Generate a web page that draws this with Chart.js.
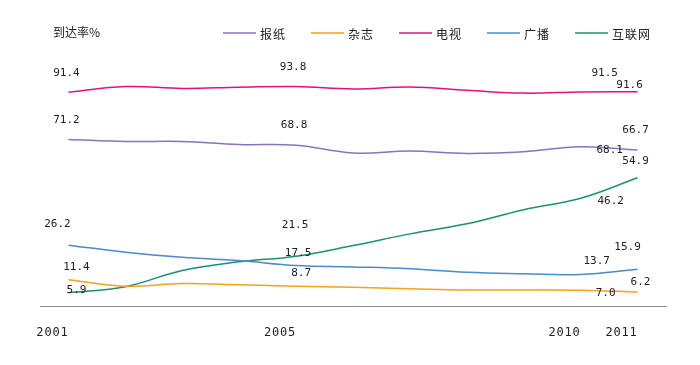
<!DOCTYPE html>
<html>
<head>
<meta charset="utf-8">
<script src="https://cdn.jsdelivr.net/npm/chart.js@4.4.1/dist/chart.umd.min.js"></script>
<style>
  body { margin: 0; background: #fff; }
  canvas { display: block; }
</style>
</head>
<body>
<canvas id="reachChart" width="700" height="365"></canvas>
<script>
const years = ['2001', '2002', '2003', '2004', '2005', '2006', '2007', '2008', '2009', '2010', '2011'];
const shownYears = ['2001', '2005', '2010', '2011'];

const seriesNames = ['报纸', '杂志', '电视', '广播', '互联网'];
const newspaper = [71.2, 70.4, 70.4, 69.1, 68.8, 65.5, 66.3, 65.3, 66.0, 68.1, 66.7];
const magazine  = [11.4, 8.7, 9.8, 9.3, 8.7, 8.2, 7.6, 7.1, 7.1, 7.0, 6.2];
const tv        = [91.4, 93.8, 93.0, 93.5, 93.8, 92.8, 93.6, 92.2, 91.0, 91.5, 91.6];
const radio     = [26.2, 23.2, 21.0, 19.6, 17.5, 16.9, 16.1, 14.6, 14.0, 13.7, 15.9];
const internet  = [5.9, 8.5, 15.4, 19.1, 21.5, 26.0, 31.0, 35.3, 41.3, 46.2, 54.9];

const colors = ['#8a72c0', '#f5a21c', '#e4107f', '#4a8bc9', '#1c9171'];

// label nudges (dx, dy) for the labelled years, per series
const labelNudges = [
    [[-2, -19], [-2, -20], [29, 3], [-2, -20]],
    [[8, -13], [5, -13], [25, 3], [3, -10]],
    [[-2, -19], [-3, -19], [24, -19], [-8, -7]],
    [[-11, -21], [2, -12], [16, -13], [-10, -22]],
    [[8, -3], [-1, -31], [30, 3], [-2, -17]]
];

const allSeries = [newspaper, magazine, tv, radio, internet];

// wider spacing for the year ticks only
const tickSpacing = {
    id: 'tickSpacing',
    beforeDraw(chart) { chart.ctx.letterSpacing = '0.8px'; },
    beforeDatasetsDraw(chart) { chart.ctx.letterSpacing = '0px'; }
};

const valueLabels = {
    id: 'valueLabels',
    afterDatasetsDraw(chart) {
        const ctx = chart.ctx;
        ctx.save();
        ctx.font = '11px "DejaVu Sans Mono", monospace';
        ctx.fillStyle = '#222';
        ctx.textAlign = 'center';
        ctx.textBaseline = 'middle';
        chart.data.datasets.forEach((ds, di) => {
            const meta = chart.getDatasetMeta(di);
            shownYears.forEach((yr, k) => {
                const i = years.indexOf(yr);
                const pt = meta.data[i];
                const nudge = labelNudges[di][k];
                ctx.fillText(ds.data[i].toFixed(1), pt.x + nudge[0], pt.y + nudge[1]);
            });
        });
        ctx.restore();
    }
};

const headerLegend = {
    id: 'headerLegend',
    afterDraw(chart) {
        const ctx = chart.ctx;
        ctx.save();
        ctx.letterSpacing = '0px';
        ctx.fillStyle = '#222';
        ctx.textBaseline = 'middle';
        ctx.font = '12px "Noto Sans CJK SC", sans-serif';
        ctx.fillText('到达率%', 53, 32);

        ctx.letterSpacing = '1px';
        chart.data.datasets.forEach((ds, i) => {
            const x = 223 + i * 88;
            ctx.strokeStyle = ds.borderColor;
            ctx.lineWidth = 1.5;
            ctx.beginPath();
            ctx.moveTo(x, 33);
            ctx.lineTo(x + 33, 33);
            ctx.stroke();
            ctx.fillText(ds.label, x + 37, 34);
        });
        ctx.restore();
    }
};

new Chart(document.getElementById('reachChart'), {
    type: 'line',
    data: {
        labels: years,
        datasets: allSeries.map((vals, i) => ({
            label: seriesNames[i],
            data: vals,
            borderColor: colors[i],
            backgroundColor: colors[i],
            borderWidth: 1.5,
            pointRadius: 0,
            tension: 0.4,
            fill: false
        }))
    },
    options: {
        responsive: false,
        animation: false,
        layout: {
            padding: { left: 40, right: 34, top: 72, bottom: 6 }
        },
        plugins: {
            legend: { display: false },
            tooltip: { enabled: false }
        },
        scales: {
            x: {
                offset: true,
                grid: { display: false, drawTicks: false },
                border: { display: true, color: '#8a8a8a', width: 1 },
                ticks: {
                    autoSkip: false,
                    maxRotation: 0,
                    align: 'end',
                    padding: 19,
                    color: '#222',
                    font: { family: '"DejaVu Sans Mono", monospace', size: 12 },
                    callback: function (value) {
                        const yr = this.getLabelForValue(value);
                        return shownYears.includes(yr) ? yr : '';
                    }
                }
            },
            y: {
                display: false,
                min: 0,
                max: 100
            }
        }
    },
    plugins: [tickSpacing, valueLabels, headerLegend]
});
</script>
</body>
</html>
